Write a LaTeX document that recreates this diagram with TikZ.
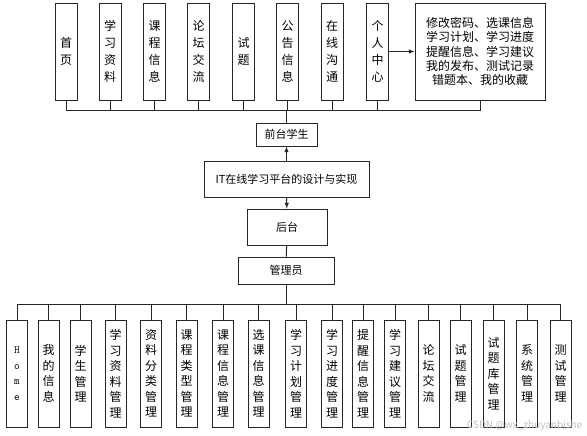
\documentclass[tikz,border=0pt]{standalone}
\usepackage{fontspec}
\setmainfont{Noto Sans CJK SC}
\begin{document}
\begin{tikzpicture}[x=1pt, y=-1pt, line width=0.8pt]
    \tikzstyle{topbox} = [draw=black!85, rectangle, minimum width=22pt, minimum height=97pt, inner sep=0pt, align=center, font=\fontsize{12}{17}\selectfont]
    \tikzstyle{botbox} = [draw=black!85, rectangle, minimum width=21pt, minimum height=107pt, inner sep=0pt, align=center, font=\fontsize{12}{15.5}\selectfont]
    \tikzstyle{midbox} = [draw=black!85, rectangle, inner sep=0pt, font=\fontsize{11}{13}\selectfont]
    \tikzstyle{infobox} = [draw=black!85, rectangle, minimum width=130pt, minimum height=97pt, inner sep=0pt, align=center, font=\fontsize{12}{14.3}\selectfont]
    \tikzstyle{link} = [draw=black!85, line width=1pt]

    \useasboundingbox (0,0) rectangle (587,436);

    % front end
    \node[topbox] (home) at (66,51.5) {首\\页};
    \node[topbox] (study) at (110,51.5) {学\\习\\资\\料};
    \node[topbox] (course) at (154.5,51.5) {课\\程\\信\\息};
    \node[topbox] (forum) at (198.5,51.5) {论\\坛\\交\\流};
    \node[topbox] (exam) at (243.5,51.5) {试\\题};
    \node[topbox] (notice) at (287.5,51.5) {公\\告\\信\\息};
    \node[topbox] (chat) at (332,51.5) {在\\线\\沟\\通};
    \node[topbox] (personal) at (377.5,51.5) {个\\人\\中\\心};
    \node[infobox] (perinfo) at (480,51.5) {修改密码、选课信息\\学习计划、学习进度\\提醒信息、学习建议\\我的发布、测试记录\\错题本、我的收藏};

    \node[midbox, minimum width=61pt, minimum height=23pt] (front) at (286.5,134.5) {前台学生};
    \node[midbox, minimum width=165pt, minimum height=36pt] (title) at (286.5,179) {IT在线学习平台的设计与实现};
    \node[midbox, minimum width=80pt, minimum height=36pt] (back) at (287,227) {后台};
    \node[midbox, minimum width=96pt, minimum height=27pt] (admin) at (286,270.5) {管理员};

    % back end
    \node[botbox, font=\fontsize{11}{15.5}\ttfamily] (ahome) at (17,373.5) {H\\o\\m\\e};
    \node[botbox] (amine) at (48.5,373.5) {我\\的\\信\\息};
    \node[botbox] (astudent) at (80.5,373.5) {学\\生\\管\\理};
    \node[botbox] (amaterial) at (115.5,373.5) {学\\习\\资\\料\\管\\理};
    \node[botbox] (acategory) at (151,373.5) {资\\料\\分\\类\\管\\理};
    \node[botbox] (actype) at (186.5,373.5) {课\\程\\类\\型\\管\\理};
    \node[botbox] (acourse) at (223,373.5) {课\\程\\信\\息\\管\\理};
    \node[botbox] (aselect) at (258.5,373.5) {选\\课\\信\\息\\管\\理};
    \node[botbox] (aplan) at (296,373.5) {学\\习\\计\\划\\管\\理};
    \node[botbox] (aprogress) at (332,373.5) {学\\习\\进\\度\\管\\理};
    \node[botbox] (aremind) at (363,373.5) {提\\醒\\信\\息\\管\\理};
    \node[botbox] (aadvice) at (395,373.5) {学\\习\\建\\议\\管\\理};
    \node[botbox] (aforum) at (428.5,373.5) {论\\坛\\交\\流};
    \node[botbox] (aexam) at (460.5,373.5) {试\\题\\管\\理};
    \node[botbox] (abank) at (493.5,373.5) {试\\题\\库\\管\\理};
    \node[botbox] (asystem) at (527,373.5) {系\\统\\管\\理};
    \node[botbox] (atest) at (560.5,373.5) {测\\试\\管\\理};

    \coordinate (topbus) at (0,111);
    \coordinate (botbus) at (0,304);

    \foreach \n in {home,study,course,forum,exam,notice,chat,personal,perinfo}
        \draw[link] (\n.south) |- (topbus -| front) -- (front.north);
    \draw[-latex, link] (personal) -- (perinfo);
    \draw[-latex, link] (title) -- (front);
    \draw[-latex, link] (title) -- (back);
    \draw[link] (back) -- (admin);
    \foreach \n in {ahome,amine,astudent,amaterial,acategory,actype,acourse,aselect,aplan,aprogress,aremind,aadvice,aforum,aexam,abank,asystem,atest}
        \draw[link] (admin.south) |- (botbus -| \n) -- (\n.north);

    \node[text=black!25, font=\fontsize{10}{12}\selectfont, anchor=east] (mark) at (586,426) {CSDN @wx\_zhuyanbishe};
\end{tikzpicture}
\end{document}
